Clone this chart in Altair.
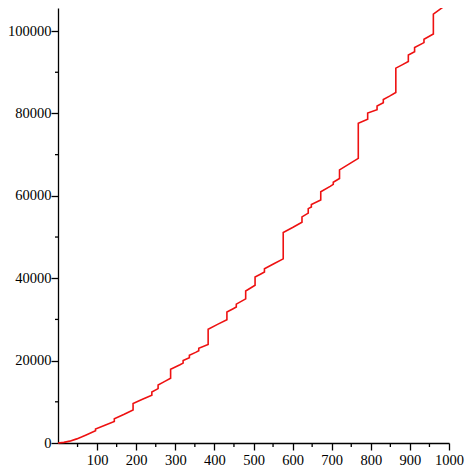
import altair as alt
import pandas as pd

# Curve vertices (x, cumulative value)
xs = [0, 15, 30, 48, 60, 72, 96, 96, 120, 144, 144, 168, 192, 192, 216, 240, 240,
      256, 256, 272, 288, 288, 312, 320, 320, 336, 336, 352, 360, 360, 384, 384,
      408, 432, 432, 448, 456, 456, 480, 480, 504, 504, 520, 528, 528, 552, 576, 576,
      600, 624, 624, 640, 640, 648, 648, 672, 672, 696, 704, 704, 720, 720, 744,
      768, 768, 792, 792, 816, 816, 832, 832, 848, 864, 864, 880, 896, 896, 912,
      912, 936, 936, 960, 960, 1000]
ys = [0, 150, 450, 1000, 1450, 1950, 3000, 3400, 4300, 5200, 5900, 6900, 8000, 9600,
      10600, 11600, 12400, 13200, 14100, 14900, 15700, 17900, 19000, 19400, 20000,
      20700, 21300, 22000, 22400, 23000, 23900, 27600, 28800, 29900, 31800, 32600,
      33000, 33700, 35000, 36900, 38300, 40300, 41100, 41500, 42300, 43500, 44700,
      51100, 52300, 53600, 54900, 55800, 56900, 57300, 57900, 59000, 61000, 62300,
      62800, 63300, 64200, 66300, 67700, 69100, 77600, 78600, 80100, 80900, 81800,
      82600, 83400, 84200, 85100, 91000, 91800, 92600, 94200, 95000, 96000, 97200,
      98000, 99300, 104100, 106900]

x_major = [100, 200, 300, 400, 500, 600, 700, 800, 900, 1000]
x_minor = [50, 150, 250, 350, 450, 550, 650, 750, 850, 950]
y_major = [0, 20000, 40000, 60000, 80000, 100000]
y_minor = [10000, 30000, 50000, 70000, 90000]

curve = pd.DataFrame({"x": xs, "y": ys, "i": list(range(len(xs)))})
xmin_df = pd.DataFrame({"x": x_minor})
ymin_df = pd.DataFrame({"y": y_minor})

FONT = "Liberation Serif"
xscale = alt.Scale(domain=[0, 1000], nice=False, zero=False)
yscale = alt.Scale(domain=[0, 105600], nice=False, zero=False)

xaxis = alt.Axis(values=x_major, title=None, grid=False, tickSize=7, tickColor="black",
                 domainColor="black", domainWidth=1.3, tickWidth=1.3, labelFont=FONT,
                 labelFontSize=14.5, labelColor="black", labelPadding=3, labelFlush=False,
                 labelOverlap=False, format="d")
yaxis = alt.Axis(values=y_major, title=None, grid=False, tickSize=7, tickColor="black",
                 domainColor="black", domainWidth=1.3, tickWidth=1.3, labelFont=FONT,
                 labelFontSize=14.5, labelColor="black", labelPadding=0, format="d",
                 labelFlush=False, labelOverlap=False)

line = alt.Chart(curve).mark_line(color="#ee1111", strokeWidth=1.6).encode(
    x=alt.X("x:Q", scale=xscale, axis=xaxis),
    y=alt.Y("y:Q", scale=yscale, axis=yaxis),
    order="i:Q",
)

xticks = alt.Chart(xmin_df).mark_rule(color="black", strokeWidth=1.3).encode(
    x=alt.X("x:Q", scale=xscale, axis=xaxis),
    y=alt.value(435),
    y2=alt.value(439),
)

yticks = alt.Chart(ymin_df).mark_rule(color="black", strokeWidth=1.3).encode(
    y=alt.Y("y:Q", scale=yscale, axis=yaxis),
    x=alt.value(-3),
    x2=alt.value(0),
)

chart = alt.layer(line, xticks, yticks).properties(
    width=391,
    height=435,
    autosize=alt.AutoSizeParams(type="none"),
    padding={"left": 50, "top": 0, "right": 17, "bottom": 23},
).configure_view(stroke=None)

chart.save("out.html", embed_options={"renderer": "svg", "actions": False})
